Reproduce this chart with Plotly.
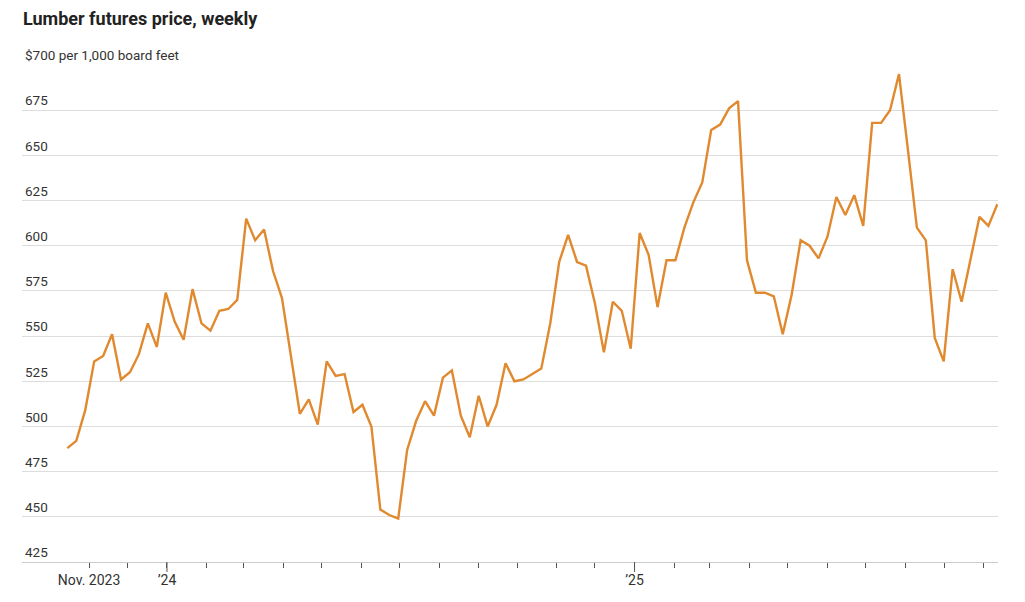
import pandas as pd
import plotly.graph_objects as go

# weekly lumber futures, $ per 1,000 board feet
start_week = "2023-10-15"
prices = [
    488, 492, 509, 536, 539, 551, 526, 530, 540, 557,
    544, 574, 558, 548, 576, 557, 553, 564, 565, 570,
    615, 603, 609, 586, 571, 539, 507, 515, 501, 536,
    528, 529, 508, 512, 500, 454, 451, 449, 487, 503,
    514, 506, 527, 531, 506, 494, 517, 500, 512, 535,
    525, 526, 529, 532, 557, 591, 606, 591, 589, 568,
    541, 569, 564, 543, 607, 595, 566, 592, 592, 610,
    624, 635, 664, 667, 676, 680, 592, 574, 574, 572,
    551, 573, 603, 600, 593, 605, 627, 617, 628, 611,
    668, 668, 675, 695, 653, 610, 603, 549, 536, 587,
    569, 592, 616, 611, 623,
]

y_ticks = [425, 450, 475, 500, 525, 550, 575, 600, 625, 650, 675, 700]
y_labels = ["425", "450", "475", "500", "525", "550", "575", "600", "625", "650", "675",
            "$700 per 1,000 board feet"]

x_labels = {"2023-11-01": "Nov. 2023", "2024-01-01": "’24", "2025-01-01": "’25"}
year_starts = ["2024-01-01", "2025-01-01"]

LINE_COLOR = "#E0892F"
TEXT_COLOR = "#333333"
FONT = "Roboto, sans-serif"

# the page body adds an 8px offset, so the figure is sized for what is left
W, H = 1017, 594
M = dict(l=14, r=27, t=57, b=40)

dates = pd.date_range(start_week, periods=len(prices), freq="7D")
months = pd.date_range("2023-11-01", "2025-10-01", freq="MS")
month_text = [x_labels.get(m.strftime("%Y-%m-%d"), "") for m in months]

fig = go.Figure()
fig.add_trace(go.Scatter(
    x=dates, y=prices, mode="lines",
    line=dict(color=LINE_COLOR, width=2.4),
    hoverinfo="x+y",
))

plot_h = H - M["t"] - M["b"]
for d in year_starts:
    fig.add_shape(type="line", xref="x", yref="paper",
                  x0=d, x1=d, y0=0, y1=-10 / plot_h,
                  line=dict(color="#555555", width=1))

fig.update_layout(
    width=W, height=H,
    margin=M,
    plot_bgcolor="white", paper_bgcolor="white",
    showlegend=False,
    title=dict(
        text="Lumber futures price, weekly",
        x=15 / W, xanchor="left", xref="container",
        y=1 - 11 / H, yanchor="middle", yref="container",
        font=dict(family=FONT, size=18, color="#222222", weight=700),
    ),
    xaxis=dict(
        type="date",
        range=[dates[0] - pd.Timedelta(days=35.5), dates[-1] + pd.Timedelta(hours=12)],
        tickvals=months, ticktext=month_text,
        ticks="outside", ticklen=5, tickcolor="#555555", tickwidth=1,
        showline=True, linecolor="#cccccc", linewidth=1,
        showgrid=False, zeroline=False,
        tickfont=dict(family=FONT, size=14, color=TEXT_COLOR),
    ),
    yaxis=dict(
        range=[425, 700],
        tickvals=y_ticks, ticktext=y_labels,
        ticklabelposition="inside top", ticklabeloverflow="allow",
        ticks="", showgrid=True, gridcolor="#dddddd", gridwidth=1,
        zeroline=False, showline=False,
        tickfont=dict(family=FONT, size=13.5, color=TEXT_COLOR),
    ),
)

fig.write_html("out.html")
